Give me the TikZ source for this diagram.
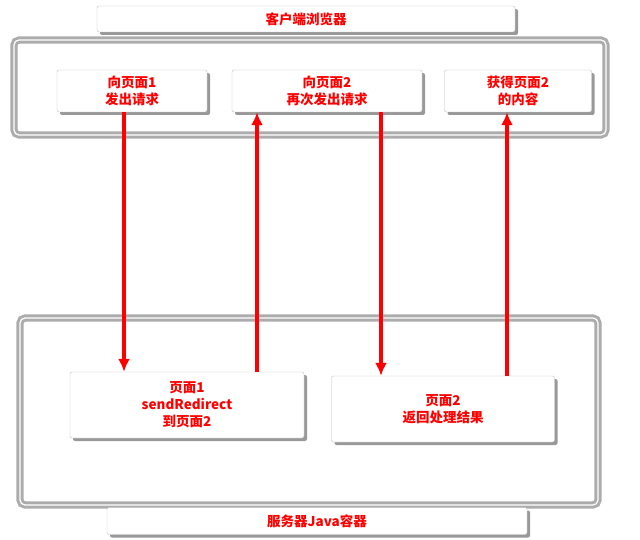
\documentclass[tikz,border=0pt]{standalone}
\usepackage{fontspec}
\newfontfamily\cjk{Noto Sans CJK SC}
\usetikzlibrary{shadows,arrows.meta}

\begin{document}
\begin{tikzpicture}[
		x=1pt, y=-1pt,
		box/.style = {draw=gray!50, fill=white, rounded corners=2pt,
			drop shadow={shadow xshift=3pt, shadow yshift=-3pt, fill=gray!80, opacity=1},
			align=center, text=red, font=\cjk\bfseries\fontsize{13.5}{17}\selectfont,
			inner sep=0pt},
		frame/.style = {draw=gray!65, line width=3pt, rounded corners=5pt,
			double=white, double distance=1.2pt},
		flow/.style = {draw=red, line width=3.5pt, -{Latex[length=13pt,width=12pt]}}]
		\useasboundingbox (0,0) rectangle (640,540);
		% browser side
		\draw[frame] (14,40) rectangle (606,135);
		\node[box, minimum width=418pt, minimum height=26pt] (browser) at (306,19) {客户端浏览器};
		\node[box, minimum width=150pt, minimum height=42pt] (req1) at (132,91) {向页面1\\发出请求};
		\node[box, minimum width=190pt, minimum height=42pt] (req2) at (327,91) {向页面2\\再次发出请求};
		\node[box, minimum width=147pt, minimum height=42pt] (got) at (518,91) {获得页面2\\的内容};
		% server side
		\draw[frame] (20,318) rectangle (598,505);
		\node[box, minimum width=234pt, minimum height=66pt] (page1) at (187,405) {页面1\\sendRedirect\\到页面2};
		\node[box, minimum width=223pt, minimum height=66pt] (page2) at (443,409) {页面2\\返回处理结果};
		\node[box, minimum width=420pt, minimum height=27pt] (server) at (317,521) {服务器Java容器};
		% requests and replies
		\draw[flow] (req1.south -| 124,0) -- (page1.north -| 124,0);
		\draw[flow] (page1.north -| 257,0) -- (req2.south -| 257,0);
		\draw[flow] (req2.south -| 381,0) -- (page2.north -| 381,0);
		\draw[flow] (page2.north -| 507,0) -- (got.south -| 507,0);
\end{tikzpicture}
\end{document}
